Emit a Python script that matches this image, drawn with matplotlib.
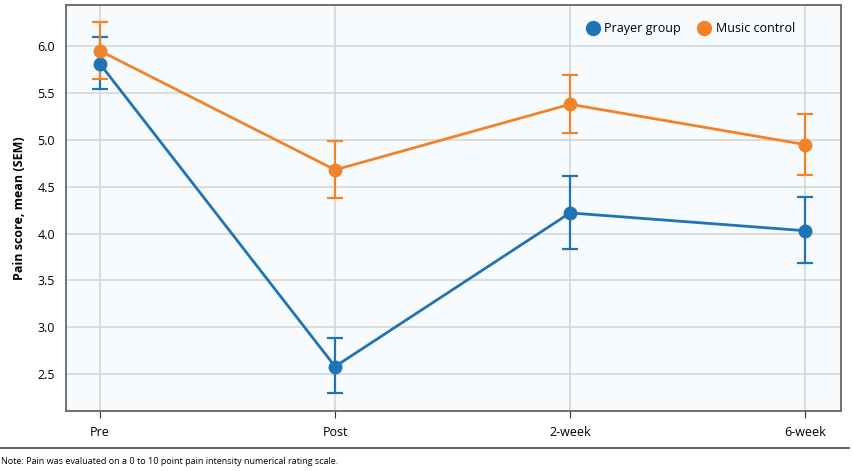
import matplotlib
matplotlib.use("Agg")
import matplotlib.pyplot as plt
from matplotlib.lines import Line2D
import numpy as np

timepoints = ["Pre", "Post", "2-week", "6-week"]

prayer_mean = [5.81, 2.58, 4.22, 4.03]
prayer_lo = [5.54, 2.30, 3.84, 3.68]
prayer_hi = [6.10, 2.88, 4.61, 4.39]

music_mean = [5.95, 4.68, 5.38, 4.95]
music_lo = [5.65, 4.38, 5.07, 4.62]
music_hi = [6.26, 4.99, 5.69, 5.28]

BLUE = "#1f74b5"
ORANGE = "#f0832a"

plt.rcParams["font.family"] = ["Open Sans", "DejaVu Sans"]

fig = plt.figure(figsize=(8.54, 4.71), dpi=100)
ax = fig.add_axes([66 / 854, 1 - 411 / 471, 775 / 854, 406 / 471])
ax.set_facecolor("#f8fbfe")

x = np.arange(len(timepoints))
handles = []
for mean, lo, hi, col, lab in [(prayer_mean, prayer_lo, prayer_hi, BLUE, "Prayer group"),
                               (music_mean, music_lo, music_hi, ORANGE, "Music control")]:
    mean = np.array(mean)
    yerr = [mean - np.array(lo), np.array(hi) - mean]
    ax.errorbar(x, mean, yerr=yerr, color=col, lw=2, marker="o", ms=9,
                capsize=6, capthick=1.6, elinewidth=1.6, zorder=3)
    handles.append(Line2D([], [], color=col, marker="o", ms=10, ls="none", label=lab))

ax.set_xlim(-0.145, 3.153)
ax.set_ylim(2.105, 6.44)
ax.set_xticks(x)
ax.set_xticklabels(timepoints, fontsize=9)
yt = [2.5, 3.0, 3.5, 4.0, 4.5, 5.0, 5.5, 6.0]
ax.set_yticks(yt)
ax.set_yticklabels([f"{v:.1f}" for v in yt], fontsize=9)
ax.tick_params(axis="y", length=0, pad=8)
ax.tick_params(axis="x", length=5, color="#333333", pad=6)
ax.grid(True, color="#d6d6d6", lw=1.2, zorder=0)
ax.set_axisbelow(True)
for s in ax.spines.values():
    s.set_color("#666666")
    s.set_linewidth(1.3)
ax.set_ylabel("Pain score, mean (SEM)", fontsize=9, fontweight="bold", labelpad=8)

ax.legend(handles=handles, loc="upper right", ncol=2, frameon=False, fontsize=9,
          handlelength=0.8, columnspacing=1.5, handletextpad=0.5,
          bbox_to_anchor=(0.955, 0.985))

fig.add_artist(Line2D([0, 849 / 854], [1 - 448 / 471] * 2, color="#444444", lw=1.2,
                      transform=fig.transFigure))
fig.text(0.001, 1 - 461 / 471, "Note: Pain was evaluated on a 0 to 10 point pain intensity numerical rating scale.",
         fontsize=6.5, va="center", ha="left")

fig.savefig("out.png", dpi=100)
